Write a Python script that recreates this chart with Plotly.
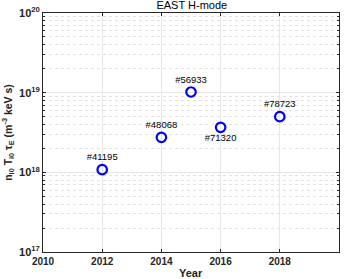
import plotly.graph_objects as go

years = [2012, 2014, 2015, 2016, 2018]
values = [1.08e18, 2.75e18, 1.02e19, 3.67e18, 5.0e18]
labels = ["#41195", "#48068", "#56933", "#71320", "#78723"]
label_pos = ["top center", "top center", "top center", "bottom center", "top center"]
y_tickvals = [1e17, 1e18, 1e19, 1e20]
y_ticktext = ["<b>10<sup>17</sup></b>", "<b>10<sup>18</sup></b>", "<b>10<sup>19</sup></b>", "<b>10<sup>20</sup></b>"]
x_tickvals = [2010, 2012, 2014, 2016, 2018, 2020]
x_ticktext = ["<b>%d</b>" % v for v in x_tickvals]

FONT = "Liberation Sans, Arial, sans-serif"

fig = go.Figure()
fig.add_trace(go.Scatter(
    x=years, y=values, mode="markers+text",
    marker=dict(symbol="circle-open", size=9.5, color="#0000ff", line=dict(width=2.2, color="#0000ff")),
    text=labels, textposition=label_pos,
    textfont=dict(family=FONT, size=9.5, color="#000"),
    showlegend=False, cliponaxis=False,
))

axis_common = dict(
    showline=True, linecolor="#262626", linewidth=0.8, mirror="ticks",
    ticks="inside", ticklen=3, tickcolor="#262626",
    showgrid=True, gridcolor="#e6e6e6", gridwidth=1, zeroline=False,
    automargin=False,
)

fig.update_xaxes(range=[2010, 2020], tickvals=x_tickvals, ticktext=x_ticktext,
                 tickfont=dict(family=FONT, size=10, color="#262626"),
                 **axis_common)
fig.update_yaxes(type="log", range=[17, 20], tickvals=y_tickvals, ticktext=y_ticktext,
                 tickfont=dict(family=FONT, size=11, color="#262626"),
                 title=dict(text="<b>n<sub>i0</sub> T<sub>i0</sub> τ<sub>E</sub> (m<sup>-3</sup> keV s)</b>", standoff=4,
                            font=dict(family=FONT, size=10.5, color="#262626")),
                 minor=dict(ticks="inside", ticklen=2, tickcolor="#262626", showgrid=True,
                            gridcolor="#e2e2e2", griddash="dot", gridwidth=1,
                            tickvals=[float(m) * 10.0 ** e for e in (17, 18, 19) for m in range(2, 10)]),
                 **axis_common)

fig.add_annotation(text="<b>Year</b>", xref="paper", yref="paper", x=0.5, y=-0.088,
                   xanchor="center", yanchor="middle", showarrow=False,
                   font=dict(family=FONT, size=11, color="#262626"))

fig.update_layout(
    width=350, height=279,
    margin=dict(l=43, r=11, t=13, b=27),
    paper_bgcolor="white", plot_bgcolor="white",
    title=dict(text="EAST H-mode", x=0.548, xanchor="center", y=0.981, yanchor="middle",
               font=dict(family=FONT, size=11, color="#000")),
)

fig.write_html("out.html", config={"displayModeBar": False},
               post_script="document.body.style.margin='0';")
